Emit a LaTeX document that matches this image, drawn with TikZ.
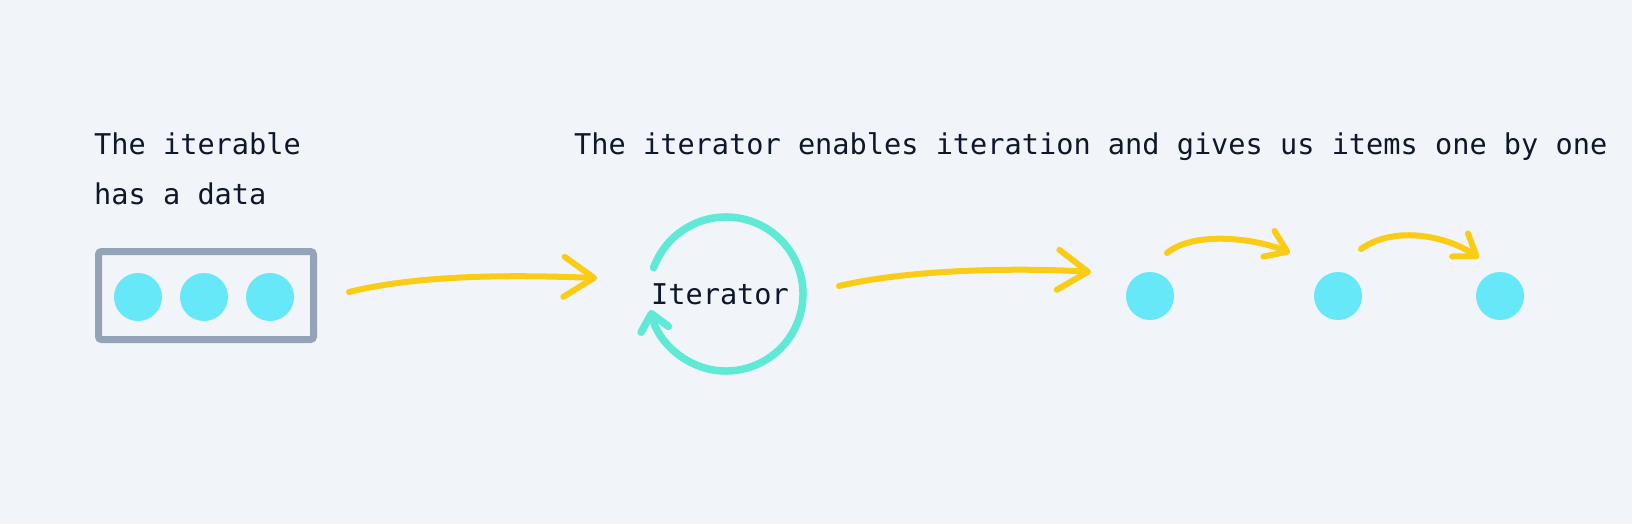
\documentclass[tikz,border=0pt]{standalone}
\usepackage{fontspec}
\setmonofont{DejaVu Sans Mono}
\usepackage{xcolor}
\usepackage{tikz}
\usetikzlibrary{arrows.meta,calc}
\definecolor{bgslate}{HTML}{F1F5F9}
\definecolor{inkslate}{HTML}{0F172A}
\definecolor{boxslate}{HTML}{94A3B8}
\definecolor{dotcyan}{HTML}{67E8F9}
\definecolor{ringteal}{HTML}{5EEAD4}
\definecolor{arrowyellow}{HTML}{FACC15}

\begin{document}
\begin{tikzpicture}[x=1pt,y=-1pt,
	txt/.style={font=\ttfamily\fontsize{28.6pt}{50.5pt}\selectfont,text=inkslate,inner sep=0pt,anchor=base west},
	databox/.style={draw=boxslate,line width=7pt,rounded corners=3pt,minimum width=215pt,minimum height=88pt,inner sep=0pt},
	item/.style={circle,fill=dotcyan,minimum size=48pt,inner sep=0pt},
	flow/.style={draw=arrowyellow,line width=6pt,line cap=round,-{Straight Barb[length=30pt,width=40pt,round]}},
	hop/.style={flow,-{Straight Barb[length=20pt,width=28pt,round]}},
	ring/.style={draw=ringteal,line width=7.5pt,line cap=round,-{Straight Barb[length=16pt,width=28pt,round]}}]
		\useasboundingbox (0,0) rectangle (1632,524);
		\fill[bgslate] (0,0) rectangle (1632,524);
		%
		\node[txt,align=left] (iterable) at (94,204.5) {The iterable\\has a data};
		\node[txt] (caption) at (574,154) {The iterator enables iteration and gives us items one by one};
		%
		\node[databox] (box) at (206,295.5) {};
		\node[item] (d1) at (138,297) {};
		\node[item] (d2) at (204,297) {};
		\node[item] (d3) at (270,297) {};
		%
		\node[txt,anchor=base] (iter) at (720,304) {Iterator};
		\draw[ring] ($(iter.base)+(6,-10)$) ++(-160:77) arc[start angle=-160,end angle=168,radius=77];
		%
		\node[item] (r1) at (1150,296) {};
		\node[item] (r2) at (1338,296) {};
		\node[item] (r3) at (1500,296) {};
		%
		\draw[flow] ($(box.east)+(32,-3.5)$) .. controls +(81,-20) and +(-57,-2) .. ($(iter.base)+(-123,-26)$);
		\draw[flow] ($(iter.base)+(119,-18)$) .. controls +(76,-18) and +(-61,-4) .. ($(r1)+(-59,-24)$);
		\draw[hop] ($(r1)+(17,-43)$) .. controls +(28,-23) and +(-32,-14) .. ($(r2)+(-48,-43)$);
		\draw[hop] ($(r2)+(23,-47)$) .. controls +(34,-24) and +(-32,-22) .. ($(r3)+(-21,-38)$);
\end{tikzpicture}
\end{document}
